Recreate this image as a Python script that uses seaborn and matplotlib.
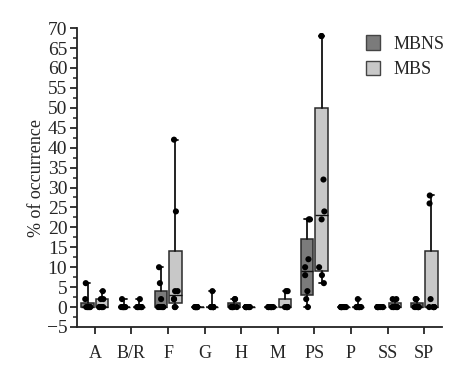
import numpy as np
import pandas as pd
import matplotlib
matplotlib.use("Agg")
import matplotlib.pyplot as plt
from matplotlib.ticker import MultipleLocator, AutoMinorLocator
from matplotlib.patches import Patch
import seaborn as sns

categories = ["A", "B/R", "F", "G", "H", "M", "PS", "P", "SS", "SP"]
groups = ["MBNS", "MBS"]

mbns = {
    "A":   [0, 0, 0, 0, 0, 0, 2, 6],
    "B/R": [0, 0, 0, 0, 0, 0, 0, 2],
    "F":   [0, 0, 0, 0, 0, 2, 6, 10],
    "G":   [0, 0, 0, 0, 0, 0, 0, 0],
    "H":   [0, 0, 0, 0, 0, 0, 2, 2],
    "M":   [0, 0, 0, 0, 0, 0, 0, 0],
    "PS":  [0, 2, 4, 8, 10, 12, 22, 22],
    "P":   [0, 0, 0, 0, 0, 0, 0, 0],
    "SS":  [0, 0, 0, 0, 0, 0, 0, 0],
    "SP":  [0, 0, 0, 0, 0, 0, 2, 2],
}
mbs = {
    "A":   [0, 0, 0, 0, 0, 2, 2, 4],
    "B/R": [0, 0, 0, 0, 0, 0, 0, 2],
    "F":   [0, 0, 2, 2, 4, 4, 24, 42],
    "G":   [0, 0, 0, 0, 0, 0, 0, 4],
    "H":   [0, 0, 0, 0, 0, 0, 0, 0],
    "M":   [0, 0, 0, 0, 0, 0, 4, 4],
    "PS":  [6, 8, 10, 22, 24, 32, 68, 68],
    "P":   [0, 0, 0, 0, 0, 0, 0, 2],
    "SS":  [0, 0, 0, 0, 0, 0, 2, 2],
    "SP":  [0, 0, 0, 0, 0, 2, 26, 28],
}
colors = {"MBNS": "#7b7b7b", "MBS": "#c8c8c8"}

rows = []
for g, d in (("MBNS", mbns), ("MBS", mbs)):
    for c in categories:
        for v in d[c]:
            rows.append({"cat": c, "group": g, "value": v})
df = pd.DataFrame(rows)

sns.set_style("ticks")
plt.rcParams["font.family"] = ["Liberation Serif", "DejaVu Serif"]

fig = plt.figure(figsize=(4.74, 3.72), dpi=100)
ax = fig.add_axes([0.1624, 0.121, 0.7701, 0.8035])


def tukey_stats(vals):
    s = np.sort(np.asarray(vals, dtype=float))
    n = len(s)
    half = n // 2 if n % 2 == 0 else (n + 1) // 2
    return {"med": float(np.median(s)), "q1": float(np.median(s[:half])),
            "q3": float(np.median(s[-half:])), "whislo": float(s.min()),
            "whishi": float(s.max()), "fliers": []}


offset = 0.2
for gi, (g, d) in enumerate((("MBNS", mbns), ("MBS", mbs))):
    stats = [tukey_stats(d[c]) for c in categories]
    pos = [i + (gi * 2 - 1) * offset for i in range(len(categories))]
    ax.bxp(stats, positions=pos, widths=0.34, patch_artist=True,
           manage_ticks=False, capwidths=0.14,
           boxprops=dict(facecolor=colors[g], edgecolor="#2a2a2a", linewidth=1.1),
           whiskerprops=dict(color="#111111", linewidth=1.3),
           capprops=dict(color="#111111", linewidth=1.3),
           medianprops=dict(color="#111111", linewidth=1.0),
           zorder=2)

np.random.seed(3)
sns.stripplot(data=df, x="cat", y="value", hue="group", order=categories,
              hue_order=groups, dodge=True, jitter=0.17, size=4.4,
              palette={"MBNS": "black", "MBS": "black"}, linewidth=0,
              ax=ax, legend=False, zorder=3)

ax.set_xlim(-0.49, 9.49)
ax.set_ylim(-5, 70)
ax.yaxis.set_major_locator(MultipleLocator(5))
ax.yaxis.set_minor_locator(AutoMinorLocator(2))
ax.set_xlabel("")
ax.set_ylabel("% of occurrence", fontsize=13, labelpad=1)
sns.despine(ax=ax)
for sp in ("left", "bottom"):
    ax.spines[sp].set_linewidth(1.3)
    ax.spines[sp].set_color("#222222")
ax.tick_params(axis="y", which="major", length=5, width=1.3, labelsize=14, pad=2)
ax.tick_params(axis="y", which="minor", length=3, width=1.1)
ax.tick_params(axis="x", which="major", length=5, width=1.3, labelsize=13, pad=8)

handles = [Patch(facecolor=colors[g], edgecolor="#444444", linewidth=1.0, label=g)
           for g in groups]
fig.legend(handles=handles, loc="upper left", bbox_to_anchor=(0.757, 0.925),
           frameon=False, fontsize=13, handlelength=0.8, handleheight=0.85,
           handletextpad=0.7, labelspacing=0.45, borderaxespad=0)

fig.savefig("out.png", dpi=100)
